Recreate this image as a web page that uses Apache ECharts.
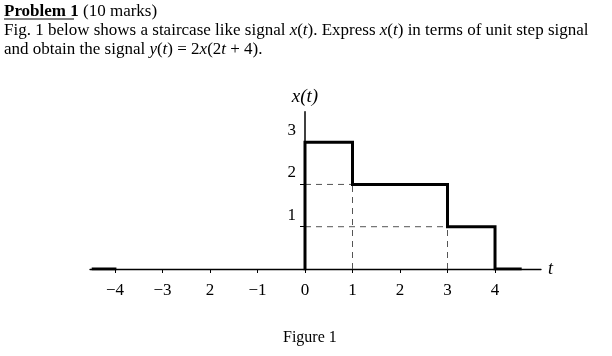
<!DOCTYPE html>
<html>
<head>
<meta charset="utf-8">
<script src="https://cdn.jsdelivr.net/npm/echarts@6/dist/echarts.min.js"></script>
<style>
html,body{margin:0;padding:0;background:#fff;}
#c{width:612px;height:356px;}
</style>
</head>
<body>
<div id="c"></div>
<script>
// ---- data ----
var tickValues = [-4, -3, -2, -1, 0, 1, 2, 3, 4];
var tickLabels = ['\u22124', '\u22123', '2', '\u22121', '0', '1', '2', '3', '4'];
var yTickValues = [1, 2, 3];
var yTickLabels = ['1', '2', '3'];
var stepTimes = [0, 1, 3, 4];      // t where x(t) jumps
var stepLevels = [3, 2, 1];        // level on each interval
var leftZero = [-4.49, -3.97];     // drawn zero segment, left
var rightZero = [4, 4.53];         // drawn zero segment, right
var guideH = [[2, 0, 1], [1, 0, 3]];   // [level, tFrom, tTo]
var guideV = [[1, 0, 2], [3, 0, 1]];   // [t, yFrom, yTo]

// build step polyline
var stepPts = [[stepTimes[0], 0]];
for (var i = 0; i < stepLevels.length; i++) {
  stepPts.push([stepTimes[i], stepLevels[i]]);
  stepPts.push([stepTimes[i + 1], stepLevels[i]]);
}
stepPts.push([stepTimes[stepTimes.length - 1], 0]);
stepPts.push([rightZero[1], 0]);

var serif = '"Liberation Serif", "Times New Roman", serif';
var series = [];
guideH.forEach(function (g) {
  series.push({type: 'line', data: [[g[1], g[0]], [g[2], g[0]]], symbol: 'none', silent: true,
    lineStyle: {color: '#555', width: 1, type: [6, 5]}, z: 1});
});
guideV.forEach(function (g) {
  series.push({type: 'line', data: [[g[0], g[1]], [g[0], g[2]]], symbol: 'none', silent: true,
    lineStyle: {color: '#555', width: 1, type: [6, 5]}, z: 1});
});
series.push({type: 'line', data: stepPts, symbol: 'none', silent: true,
  lineStyle: {color: '#000', width: 3, join: 'miter', cap: 'square'}, z: 3});
series.push({type: 'line', data: [[leftZero[0], 0], [leftZero[1], 0]], symbol: 'none', silent: true,
  lineStyle: {color: '#000', width: 3}, z: 3});

var xMin = -4.526, xMax = 4.968, gridLeft = 90, gridRight = 71;
var chart = echarts.init(document.getElementById('c'), null, {renderer: 'canvas'});
var plotW = 612 - gridLeft - gridRight;
var yOffset = -plotW * (0 - xMin) / (xMax - xMin);
chart.setOption({
  animation: false,
  backgroundColor: '#fff',
  grid: {left: gridLeft, right: gridRight, top: 111.7, bottom: 87, containLabel: false},
  xAxis: {
    type: 'value', min: xMin, max: xMax,
    name: 't', nameLocation: 'end', nameGap: 7,
    nameTextStyle: {fontFamily: serif, fontStyle: 'italic', fontSize: 18, color: '#000', verticalAlign: 'middle'},
    axisLine: {onZero: true, lineStyle: {color: '#000', width: 1.3}},
    axisTick: {show: true, customValues: tickValues, length: 4, lineStyle: {color: '#000', width: 1}},
    axisLabel: {customValues: tickValues, margin: 13, color: '#000', fontFamily: serif, fontSize: 17,
      formatter: function (v) { var k = tickValues.indexOf(Math.round(v)); return k >= 0 ? tickLabels[k] : ''; }},
    splitLine: {show: false}
  },
  yAxis: {
    type: 'value', min: 0, max: 3.72, position: 'left', offset: yOffset,
    name: 'x(t)', nameLocation: 'end', nameGap: 5,
    nameTextStyle: {fontFamily: serif, fontStyle: 'italic', fontSize: 19, color: '#000', align: 'center'},
    axisLine: {onZero: false, lineStyle: {color: '#000', width: 1.5}},
    axisTick: {show: true, customValues: [1, 2], length: 5, lineStyle: {color: '#000', width: 1}},
    axisLabel: {customValues: yTickValues, margin: 9, color: '#000', fontFamily: serif, fontSize: 17,
      verticalAlign: 'bottom', lineHeight: 17, padding: [0, 0, 3, 0],
      formatter: function (v) { var k = yTickValues.indexOf(Math.round(v)); return k >= 0 ? yTickLabels[k] : ''; }},
    splitLine: {show: false}
  },
  series: series,
  graphic: [
    {type: 'text', left: 4, top: 3.5, style: {
      text: '{b|Problem 1} (10 marks)', font: '17px ' + serif, fill: '#000',
      rich: {b: {fontWeight: 'bold', fontFamily: serif, fontSize: 17}}}},
    {type: 'line', shape: {x1: 4, y1: 19, x2: 74, y2: 19}, style: {stroke: '#000', lineWidth: 1}},
    {type: 'text', left: 4, top: 22.5, style: {
      text: 'Fig. 1 below shows a staircase like signal {i|x}({i|t}). Express {i|x}({i|t}) in terms of unit step signal',
      font: '17px ' + serif, fill: '#000',
      rich: {i: {fontStyle: 'italic', fontFamily: serif, fontSize: 17}}}},
    {type: 'text', left: 4, top: 41.5, style: {
      text: 'and obtain the signal {i|y}({i|t}) = 2{i|x}(2{i|t} + 4).',
      font: '17px ' + serif, fill: '#000',
      rich: {i: {fontStyle: 'italic', fontFamily: serif, fontSize: 17}}}},
    {type: 'text', left: 283, top: 330, style: {text: 'Figure 1', font: '16px ' + serif, fill: '#000'}}
  ]
});
</script>
</body>
</html>
